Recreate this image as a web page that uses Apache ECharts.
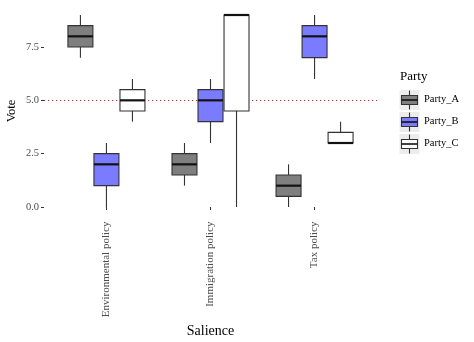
<!DOCTYPE html>
<html><head><meta charset="utf-8">
<script src="https://cdn.jsdelivr.net/npm/echarts@6/dist/echarts.min.js"></script>
<style>html,body{margin:0;padding:0;background:#fff}#c{width:474px;height:342px}</style>
</head><body><div id="c"></div>
<script>
const categories = ['Environmental policy', 'Immigration policy', 'Tax policy'];
const parties = ['Party_A', 'Party_B', 'Party_C'];
// [min, q1, median, q3, max] per category
const partyA = [[7, 7.5, 8, 8.5, 9], [1, 1.5, 2, 2.5, 3], [0, 0.5, 1, 1.5, 2]];
const partyB = [[0, 1, 2, 2.5, 3], [3, 4, 5, 5.5, 6], [6, 7, 8, 8.5, 9]];
const partyC = [[4, 4.5, 5, 5.5, 6], [0, 4.5, 9, 9, 9], [3, 3, 3, 3.5, 4]];
const yTicks = [0, 2.5, 5, 7.5];
const xTicks = [1, 2, 3];
const refLine = 5;

const fills = ['#7f7f7f', '#7b7bff', '#ffffff'];
const border = '#333333';
const FONT = 'Liberation Serif';
const chart = echarts.init(document.getElementById('c'));

function makeRender(k) {
  return function (params, api) {
    const xi = api.value(0);
    const band = api.size([1, 0])[0];
    const off = (k - 1) * 0.25 * band;
    const w = 0.24 * band;
    const cx = api.coord([xi, 0])[0] + off;
    const y = i => api.coord([xi, api.value(i)])[1];
    const ymin = y(1), yq1 = y(2), ymed = y(3), yq3 = y(4), ymax = y(5);
    return {
      type: 'group', children: [
        { type: 'line', shape: { x1: cx, y1: ymax, x2: cx, y2: yq3 }, style: { stroke: border, lineWidth: 1.1 } },
        { type: 'line', shape: { x1: cx, y1: yq1, x2: cx, y2: ymin }, style: { stroke: border, lineWidth: 1.1 } },
        { type: 'rect', shape: { x: cx - w / 2, y: yq3, width: w, height: yq1 - yq3 }, style: { fill: fills[k], stroke: border, lineWidth: 1.1 } },
        { type: 'line', shape: { x1: cx - w / 2, y1: ymed, x2: cx + w / 2, y2: ymed }, style: { stroke: '#111', lineWidth: 2.2 } }
      ]
    };
  };
}
const allData = [partyA, partyB, partyC];

const series = parties.map((p, k) => ({
  name: p, type: 'custom',
  renderItem: makeRender(k),
  encode: { x: 0, y: [1, 2, 3, 4, 5] },
  itemStyle: { color: fills[k], borderColor: border },
  data: allData[k].map((d, i) => [xTicks[i]].concat(d)),
  z: 3
}));
series[0].markLine = {
  silent: true, symbol: 'none', label: { show: false },
  lineStyle: { type: [1.2, 2.8], color: '#b03030', width: 1.2 },
  data: [{ yAxis: refLine }], z: 1
};

// legend keys (drawn as graphics, text kept as real text)
const legendGraphics = [{
  type: 'text', left: 400, top: 70,
  style: { text: 'Party', fontFamily: FONT, fontSize: 13, fill: '#000' }
}];
parties.forEach((p, i) => {
  const y0 = 90 + i * 22;
  legendGraphics.push(
    { type: 'rect', shape: { x: 399.5, y: y0, width: 20, height: 20 }, style: { fill: '#ececec' }, z: 1 },
    { type: 'line', shape: { x1: 409.5, y1: y0 + 0.5, x2: 409.5, y2: y0 + 5.5 }, style: { stroke: border, lineWidth: 1.1 }, z: 2 },
    { type: 'line', shape: { x1: 409.5, y1: y0 + 14.5, x2: 409.5, y2: y0 + 19.5 }, style: { stroke: border, lineWidth: 1.1 }, z: 2 },
    { type: 'rect', shape: { x: 401.5, y: y0 + 5.5, width: 16, height: 9 }, style: { fill: fills[i], stroke: border, lineWidth: 1.1 }, z: 2 },
    { type: 'line', shape: { x1: 401.5, y1: y0 + 10, x2: 417.5, y2: y0 + 10 }, style: { stroke: '#111', lineWidth: 1.6 }, z: 3 },
    { type: 'text', left: 424, top: y0 + 4, style: { text: p, fontFamily: FONT, fontSize: 10.5, fill: '#000' }, z: 3 }
  );
});

chart.setOption({
  animation: false,
  textStyle: { fontFamily: FONT },
  grid: { left: 44, right: 97, top: 5.4, bottom: 125.4, containLabel: false, outerBoundsMode: 'none' },
  graphic: legendGraphics,
  xAxis: {
    type: 'value', min: 0.4, max: 3.6,
    name: 'Salience', nameLocation: 'middle', nameGap: 108, nameMoveOverlap: false,
    nameTextStyle: { fontFamily: FONT, fontSize: 14, color: '#000' },
    axisLine: { show: false },
    axisTick: { show: true, length: 3, customValues: xTicks, lineStyle: { color: '#333' } },
    axisLabel: {
      customValues: xTicks, rotate: 90, margin: 5, fontFamily: FONT, fontSize: 11, color: '#4d4d4d',
      formatter: v => categories[Math.round(v) - 1]
    },
    splitLine: { show: false }
  },
  yAxis: {
    type: 'value', min: -0.45, max: 9.45,
    name: 'Vote', nameLocation: 'middle', nameGap: 26, nameMoveOverlap: false,
    nameTextStyle: { fontFamily: FONT, fontSize: 12.5, color: '#000' },
    axisLine: { show: false },
    axisTick: { show: true, length: 3, customValues: yTicks, lineStyle: { color: '#333' } },
    axisLabel: { customValues: yTicks, margin: 5, fontFamily: FONT, fontSize: 10.5, color: '#4d4d4d', formatter: v => Number(v).toFixed(1) },
    splitLine: { show: false }
  },
  series: series
});
</script></body></html>
